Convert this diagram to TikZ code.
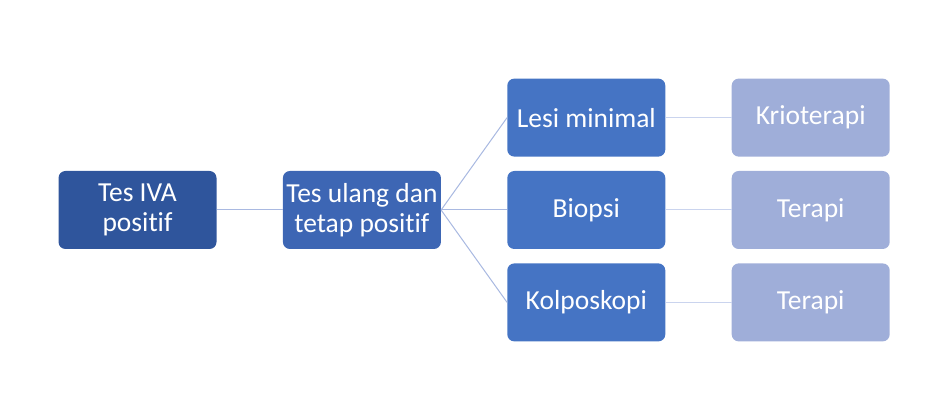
\documentclass[tikz,border=0pt]{standalone}
\usepackage{fontspec}
\setmainfont[Ligatures=NoCommon]{Carlito}
\usetikzlibrary{positioning}
\definecolor{lvlone}{HTML}{2F559C}
\definecolor{lvltwo}{HTML}{3D66B4}
\definecolor{lvlthree}{HTML}{4574C4}
\definecolor{lvlfour}{HTML}{9FAED9}
\definecolor{linkone}{HTML}{A9B9E1}
\definecolor{linktwo}{HTML}{CAD4EE}
\begin{document}
\begin{tikzpicture}[x=1pt,y=1pt,node distance=14pt and 66pt,align=center,
	box/.style={rectangle,rounded corners=7pt,minimum width=158pt,minimum height=78pt,inner sep=0pt,text=white,font=\fontsize{27.5}{30}\selectfont},
	link/.style={draw=linkone,line width=1pt}]
	\useasboundingbox (0,0) rectangle (941,412);
			\node[box,fill=lvlone] (iva) at (137.5,202) {Tes IVA\\positif};
			\node[box,fill=lvltwo] [right=of iva] (ulang) {Tes ulang dan\\tetap positif};
			\node[box,fill=lvlthree] [right=of ulang] (biopsi) {Biopsi};
			\node[box,fill=lvlthree] [above=of biopsi] (lesi) {Lesi minimal};
			\node[box,fill=lvlthree] [below=of biopsi] (kolpo) {Kolposkopi};
			\node[box,fill=lvlfour] [right=of lesi] (krio) {Krioterapi};
			\node[box,fill=lvlfour] [right=of biopsi] (terapi_a) {Terapi};
			\node[box,fill=lvlfour] [right=of kolpo] (terapi_b) {Terapi};
			\path[link]
				(iva) edge (ulang)
				(ulang.east) edge (lesi.west)
				(ulang.east) edge (biopsi.west)
				(ulang.east) edge (kolpo.west);
			\path[link,draw=linktwo]
				(lesi) edge (krio)
				(biopsi) edge (terapi_a)
				(kolpo) edge (terapi_b);
		\end{tikzpicture}
\end{document}
